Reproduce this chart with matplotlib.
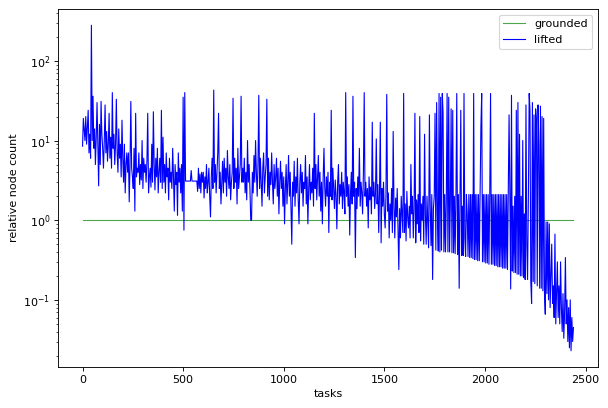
import numpy as np
import matplotlib
matplotlib.use("Agg")
import matplotlib.pyplot as plt

TASK_STEP = 4

lifted_0 = [8.5, 19, 14, 10, 20, 9, 15, 24, 7, 12, 6, 280, 10, 36, 8, 14, 5, 11, 30, 9,
            2.7, 16, 5, 31, 12, 8, 4.5, 10, 28, 7, 13, 5.5, 9, 22, 6, 11, 4.5, 40, 8, 12,
            5, 9, 33, 7, 4, 14, 6, 9, 3.5, 18]
lifted_1 = [6, 3, 9, 2.2, 5, 7, 4, 7, 1.7, 5, 31, 4.5, 3.5, 2.5, 8, 1.3, 22, 3.5, 4.5, 4,
            7, 2.8, 5, 3.2, 10, 2.5, 6, 4, 5, 3, 5.5, 22, 2.2, 3.5, 4.5, 2.6, 9, 3, 23, 5,
            2.4, 6, 3.5, 8, 2.2, 4, 6, 3, 24, 2.5]
lifted_2 = [11, 3, 5, 2.2, 7, 3.5, 4.5, 1.8, 6, 3, 4, 2.5, 8, 3.5, 1.3, 5, 2.8, 4, 1.15, 7,
            3, 4.5, 2.2, 5, 1.3, 35, 0.75, 40, 3.1, 3.1, 3.1, 3.1, 3.1, 3.1, 3.1, 4.2, 3.1, 3.1, 3.1, 3.1,
            3.1, 3.1, 3.1, 2.3, 4.5, 2.5, 3.8, 2.2, 4, 3]
lifted_3 = [4, 1.9, 3.5, 2.5, 5, 2.2, 3, 4.5, 2, 1.1, 3.5, 6, 2.5, 43, 3, 5, 2.2, 4, 7, 22,
            2.5, 4, 1.6, 3, 5.5, 2.2, 6, 3, 4.5, 2, 7.5, 3.5, 2.5, 5, 1.8, 3, 4, 34, 2.5, 6,
            3, 4.5, 1.6, 8, 2.5, 3.5, 5, 36, 3, 4.5]
lifted_4 = [3, 6, 2.2, 4, 1.8, 10, 3, 5, 2.5, 1.0, 1.0, 4, 2.2, 6.5, 3, 10, 4, 2, 5, 37,
            2.5, 6, 3, 1.5, 4.5, 7, 2.2, 3.5, 5, 33, 2, 6, 1.8, 4, 2.8, 7, 3, 1.6, 5, 2.5,
            3.5, 6, 2, 4.5, 1.2, 3, 5.5, 2.5, 4, 1.5]
lifted_5 = [3.5, 0.9, 2.5, 5, 1.6, 3, 6.5, 2, 4, 1.4, 0.5, 3, 2, 5.5, 1.5, 3.5, 2.2, 6, 1.8, 0.9,
            3, 5, 2.2, 4, 1.5, 3, 2.5, 6.5, 1.6, 3.5, 0.9, 2.5, 5, 1.8, 3, 2.2, 4.5, 1.5, 22, 2.5,
            5, 1.8, 3.5, 6.5, 2, 4, 1.3, 3, 0.9, 3.5]
lifted_6 = [8, 2.5, 1.5, 3.5, 2, 4, 0.7, 3, 2, 24, 1.8, 4.5, 2.5, 1.4, 3.2, 2, 0.78, 3, 5, 1.6,
            2.8, 2, 4, 1.4, 3, 2.2, 1.2, 40, 2, 3.5, 1.5, 2.8, 0.65, 2.2, 4, 1.6, 36, 2, 3, 0.34,
            2.5, 1.4, 3.5, 2, 8, 1.5, 3, 2.2, 1.2, 4]
lifted_7 = [40, 2, 3, 1.5, 2.5, 0.8, 3.5, 1.8, 2.6, 1.2, 17, 2, 3, 1.4, 2.2, 10.5, 1.6, 2.8, 0.7, 2.2,
            17, 0.52, 2.5, 1.5, 3, 1.2, 0.8, 2, 38, 1.3, 2.2, 0.6, 1.6, 1, 2.5, 0.7, 13, 1.5, 0.6, 1.9,
            1.1, 2.5, 0.8, 0.24, 1.4, 0.6, 2, 1.2, 0.7, 39]
lifted_8 = [0.7, 1.6, 0.55, 2.3, 1.1, 0.8, 1.5, 0.6, 5, 1.2, 2, 0.6, 1.4, 22, 0.52, 1.8, 0.9, 2.1, 0.7, 20,
            0.55, 1.6, 1.0, 2, 0.5, 12, 1.2, 0.5, 2, 0.9, 0.45, 21, 1.5, 0.48, 2.1, 0.18, 1.4, 2, 22, 0.42,
            30, 1.2, 0.41, 39, 0.4, 35, 0.42, 39, 22, 0.4]
lifted_9 = [2.1, 0.4, 1.8, 39, 0.4, 35, 0.4, 1.6, 25, 0.39, 24, 0.39, 2, 0.38, 2.1, 39, 0.37, 2.1, 0.14, 2.1,
            24, 0.36, 1.5, 0.36, 39, 0.6, 0.35, 2.1, 1.2, 0.35, 2.1, 0.34, 2.1, 0.34, 2.1, 0.33, 39, 0.32, 2.1, 0.32,
            2.1, 0.31, 2.1, 0.31, 2.1, 15, 39, 0.3, 2.1, 0.3]
lifted_10 = [2.1, 0.29, 2.1, 0.29, 2.1, 0.28, 2.1, 39, 0.28, 2.1, 0.28, 2.1, 0.27, 2.1, 0.27, 2.1, 0.26, 2.1, 0.26, 2.1,
             0.26, 2.1, 0.25, 2.1, 0.25, 2.1, 0.25, 2.1, 0.24, 2.1, 21, 2.1, 0.137, 37, 0.23, 1.5, 0.22, 2, 0.22, 24,
             0.21, 30, 0.21, 12, 0.2, 2, 0.2, 10, 0.19, 1.2]
lifted_11 = [0.18, 28, 0.5, 0.18, 2, 39, 24, 0.17, 0.09, 30, 0.17, 21, 0.16, 25, 18, 0.15, 28, 9, 0.14, 27,
             0.14, 20, 0.13, 19, 0.12, 0.066, 0.95, 0.12, 0.95, 0.1, 0.9, 0.08, 0.2, 0.5, 0.09, 0.15, 0.06, 0.67, 0.05, 0.12,
             0.3, 0.06, 0.15, 0.05, 0.3, 0.08, 0.04, 0.12, 0.033, 0.07]
lifted_12 = [0.34, 0.05, 0.1, 0.03, 0.08, 0.025, 0.1, 0.023, 0.06, 0.03, 0.045]

GROUNDED_LEVEL = 1.0   # grounded is the reference, so its ratio is 1 everywhere

lifted = np.array(lifted_0 + lifted_1 + lifted_2 + lifted_3 + lifted_4 + lifted_5 + lifted_6
                  + lifted_7 + lifted_8 + lifted_9 + lifted_10 + lifted_11 + lifted_12)
tasks = np.arange(len(lifted)) * TASK_STEP
grounded = np.full(len(lifted), GROUNDED_LEVEL)

fig = plt.figure(figsize=(7.6, 5.1), dpi=80)
ax = fig.add_axes([58/608, 1 - 367/408, 540/608, 358/408])
ax.plot(tasks, grounded, color="#4ca64c", lw=1, label="grounded")
ax.plot(tasks, lifted, color="b", lw=1, label="lifted")
ax.set_yscale("log")
ax.set_xlabel("tasks")
ax.set_ylabel("relative node count")
ax.legend(loc="upper right")
fig.savefig("out.png", dpi=80)
